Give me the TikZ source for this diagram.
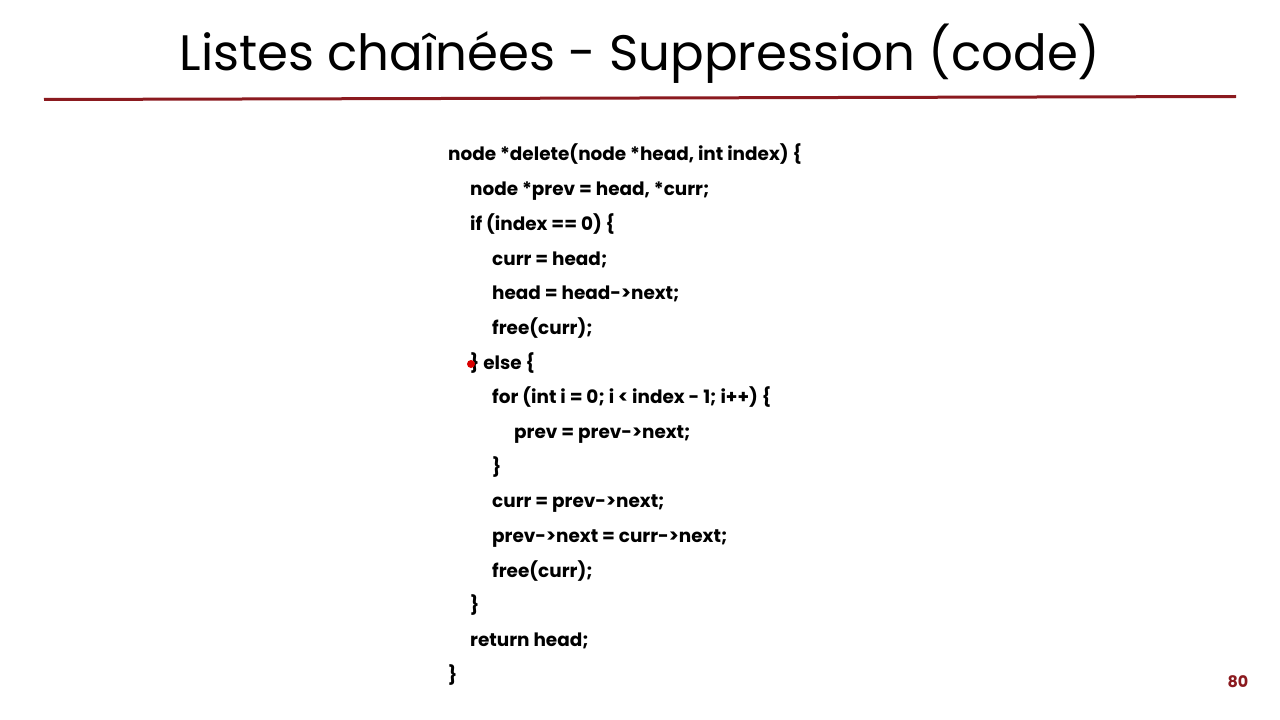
\documentclass[tikz,border=0pt]{standalone}
\usepackage{fontspec}
\setmainfont{Poppins}
\definecolor{slidered}{HTML}{8B1A1F}
\begin{document}
\begin{tikzpicture}[x=1bp,y=-1bp,
  codeline/.style={anchor=base west,inner sep=0pt,font=\fontsize{18.5}{20}\selectfont\bfseries}]
\useasboundingbox[fill=white] (0,0) rectangle (1280,720);
\node[anchor=base,inner sep=0pt,font=\fontsize{50}{56}\selectfont] (title) at (640,71) {Listes chaînées - Suppression (code)};
\draw[slidered,line width=3bp] (44,99.5) -- (1236,96.5);
\node[codeline] (l1) at (448,161) {node *delete(node *head, int index) \{};
\node[codeline] (l2) at (470,195.7) {node *prev = head, *curr;};
\node[codeline] (l3) at (470,230.3) {if (index == 0) \{};
\node[codeline] (l4) at (492,265) {curr = head;};
\node[codeline] (l5) at (492,299.7) {head = head->next;};
\node[codeline] (l6) at (492,334.3) {free(curr);};
\node[codeline] (l7) at (470,369) {\} else \{};
\node[codeline] (l8) at (492,403.7) {for (int i = 0; i < index - 1; i++) \{};
\node[codeline] (l9) at (514,438.3) {prev = prev->next;};
\node[codeline] (l10) at (492,473) {\}};
\node[codeline] (l11) at (492,507.7) {curr = prev->next;};
\node[codeline] (l12) at (492,542.3) {prev->next = curr->next;};
\node[codeline] (l13) at (492,577) {free(curr);};
\node[codeline] (l14) at (470,611.7) {\}};
\node[codeline] (l15) at (470,646.3) {return head;};
\node[codeline] (l16) at (448,681) {\}};
\fill[red!85!black] (471,364) circle (4);
\node[anchor=base,inner sep=0pt,text=slidered,font=\fontsize{16}{18}\selectfont\bfseries] (page) at (1238,687) {80};
\end{tikzpicture}
\end{document}
